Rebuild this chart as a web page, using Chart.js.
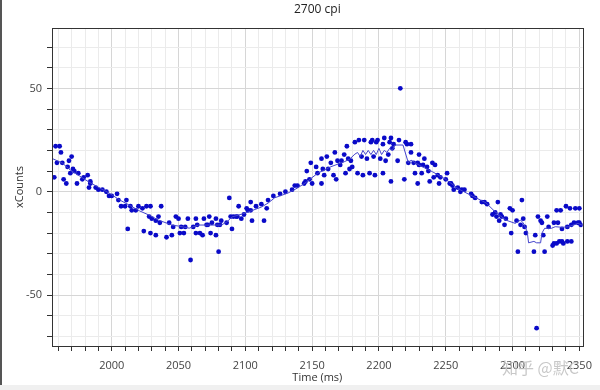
<!DOCTYPE html>
<html>
<head>
<meta charset="utf-8">
<script src="https://cdn.jsdelivr.net/npm/chart.js@4"></script>
<style>
  html, body { margin: 0; padding: 0; background: #fff; }
  #wrap { width: 600px; height: 390px; }
</style>
</head>
<body>
<div id="wrap"><canvas id="chart" width="600" height="390"></canvas></div>
<script>
// 2700 cpi - xCounts over time

// Scatter samples
const pointTimes = [
  1958, 1961, 1962, 1957, 1959, 1963, 1970, 1968, 1967, 1971, 1972, 1969, 1964, 1966, 1975, 1974,
  1978, 1979, 1982, 1984, 1984, 1983, 1988, 1990, 1993, 1996, 1998, 2000, 2004, 2005, 2007, 2010,
  2011, 2014, 2015, 2018, 2020, 2023, 2012, 2024, 2026, 2029, 2037, 2028, 2030, 2033, 2035, 2036,
  2029, 2033, 2041, 2045, 2043, 2046, 2048, 2050, 2052, 2055, 2057, 2051, 2054, 2059, 2061, 2063,
  2064, 2063, 2066, 2068, 2069, 2071, 2072, 2073, 2074, 2075, 2078, 2078, 2079, 2081, 2082, 2080,
  2086, 2088, 2089, 2090, 2091, 2093, 2094, 2095, 2097, 2099, 2101, 2102, 2104, 2104, 2105, 2108,
  2112, 2114, 2116, 2117, 2121, 2126, 2130, 2135, 2137, 2139, 2144, 2145, 2146, 2148, 2149, 2150,
  2153, 2154, 2157, 2157, 2158, 2161, 2159, 2162, 2164, 2166, 2167, 2168, 2169, 2171, 2172, 2174,
  2175, 2176, 2177, 2178, 2179, 2180, 2182, 2184, 2185, 2187, 2188, 2189, 2191, 2193, 2194, 2195,
  2196, 2197, 2198, 2199, 2201, 2203, 2204, 2203, 2205, 2207, 2208, 2209, 2209, 2210, 2211, 2214,
  2215, 2216, 2219, 2220, 2221, 2222, 2224, 2224, 2226, 2227, 2229, 2230, 2229, 2230, 2232, 2233,
  2234, 2236, 2237, 2238, 2240, 2242, 2241, 2244, 2245, 2246, 2250, 2251, 2253, 2254, 2255, 2256,
  2259, 2261, 2262, 2264, 2269, 2270, 2272, 2277, 2279, 2281, 2289, 2285, 2288, 2290, 2287, 2291,
  2292, 2294, 2295, 2298, 2300, 2299, 2303, 2304, 2306, 2307, 2308, 2309, 2310, 2316, 2317, 2318,
  2319, 2321, 2322, 2324, 2323, 2326, 2327, 2330, 2331, 2331, 2333, 2336, 2334, 2333, 2335, 2337,
  2338, 2337, 2340, 2341, 2341, 2344, 2343, 2344, 2347, 2350, 2346, 2349, 2350, 2351
];
const pointCounts = [
  22, 22, 19, 7, 14, 14, 17, 15, 12, 11, 10, 9, 6, 4, 9, 4,
  6, 7, 8, 5, 4, 2, 2, 1, 1, 0, -2, -2, -1, -4, -7, -7,
  -4, -7, -9, -9, -7, -8, -18, -19, -7, -7, -7, -12, -13, -14, -12, -15,
  -20, -21, -22, -21, -15, -17, -12, -13, -17, -17, -13, -20, -20, -33, -17, -13,
  -16, -20, -20, -21, -13, -16, -16, -12, -20, -15, -13, -21, -16, -16, -14, -29,
  -15, -3, -12, -18, -12, -12, -12, -7, -13, -11, -8, -9, -9, -5, -14, -7,
  -6, -14, -8, -4, -2, -1, 0, 1, 3, 3, 4, 5, 10, 6, 14, 4,
  12, 9, 4, 16, 11, 17, 8, 11, 14, 8, 19, 6, 15, 13, 15, 18,
  9, 22, 16, 11, 15, 12, 24, 9, 25, 17, 8, 25, 16, 9, 24, 25,
  17, 8, 24, 25, 16, 9, 26, 23, 15, 18, 24, 5, 26, 21, 23, 15,
  25, 50, 6, 24, 23, 14, 23, 19, 14, 9, 4, 18, 14, 13, 9, 13,
  16, 12, 10, 5, 14, 13, 7, 8, 4, 7, 6, 9, 4, 4, 3, 1,
  2, 0, 1, 1, -1, -2, -3, -5, -5, -6, -5, -11, -12, -14, -10, -11,
  -12, -16, -13, -8, -9, -20, -14, -29, -16, -4, -13, -17, -20, -29, -21, -66,
  -12, -14, -15, -29, -21, -12, -17, -26, -15, -25, -9, -9, -15, -25, -24, -24,
  -25, -18, -7, -17, -24, -24, -8, -16, -8, -8, -15, -15, -15, -16
];

// Smoothed trace
const lineTimes = [
  1955, 1963, 1969, 1976, 1983, 1991, 1998, 2006, 2013, 2021, 2028, 2035, 2045, 2050, 2058, 2065,
  2075, 2082, 2086, 2090, 2100, 2112, 2117, 2122, 2132, 2139, 2146, 2154, 2164, 2174, 2178, 2182,
  2184, 2186, 2188, 2190, 2192, 2194, 2196, 2198, 2200, 2202, 2204, 2206, 2208, 2210, 2212, 2218,
  2222, 2224, 2230, 2240, 2250, 2260, 2270, 2280, 2287, 2295, 2302, 2306, 2308, 2311, 2312, 2316,
  2318, 2321, 2322, 2324, 2329, 2332, 2337, 2342, 2349, 2352
];
const lineCounts = [
  16.2, 13.9, 10.5, 7.6, 4.7, 1.8, -0.6, -4, -6.4, -9.3, -11.3, -13.7, -16.1, -16.6, -17.6, -16.1,
  -16.1, -16.1, -14.7, -12.2, -10.3, -7.4, -5.5, -2.9, -0.6, 1.8, 4.8, 8.9, 12.1, 14.5, 15.7, 18.2,
  19, 17, 20, 18, 20, 18, 20, 18, 21, 18, 20, 19, 21, 20, 22.6, 22.6,
  14, 15.3, 12.9, 9.7, 6, 1.2, -2.1, -5.3, -9.7, -13.7, -15.3, -13.7, -15.1, -19.3, -24.7, -24,
  -24.7, -24.7, -20, -17.7, -17.7, -16.9, -17.2, -16.9, -15.3, -16.1
];

const xTicks = [];
for (let t = 1960; t <= 2350; t += 10) xTicks.push(t);
const yTicks = [];
for (let v = -70; v <= 70; v += 10) yTicks.push(v);

const FONT = '"Open Sans", "Noto Sans", sans-serif';

const frame = {
  id: 'frame',
  beforeDraw(chart) {
    const c = chart.ctx;
    c.save();
    c.fillStyle = '#ffffff';
    c.fillRect(0, 0, chart.width, chart.height);
    c.fillStyle = '#f0f0f0';
    c.fillRect(0, 385, chart.width, 5);
    c.restore();
  },
  afterDraw(chart) {
    const c = chart.ctx;
    const a = chart.chartArea;
    c.save();
    // plot border
    c.strokeStyle = '#333';
    c.lineWidth = 1;
    c.strokeRect(Math.round(a.left) + 0.5, Math.round(a.top) + 0.5,
                 Math.round(a.right - a.left), Math.round(a.bottom - a.top));
    // window edge
    c.fillStyle = '#555';
    c.fillRect(0, 0, 2, 385);
    // title
    c.fillStyle = '#222';
    c.font = '12px ' + FONT;
    c.textAlign = 'center';
    c.textBaseline = 'middle';
    c.fillText('2700 cpi', (a.left + a.right) / 2, 10);
    // axis titles
    c.font = '11px ' + FONT;
    c.fillStyle = '#333';
    c.fillText('Time (ms)', (a.left + a.right) / 2, 378);
    c.save();
    c.translate(20, (a.top + a.bottom) / 2);
    c.rotate(-Math.PI / 2);
    c.fillText('xCounts', 0, 0);
    c.restore();
    // watermark
    c.font = '16px "Noto Sans CJK SC", sans-serif';
    c.fillStyle = 'rgba(190,190,190,0.85)';
    c.textAlign = 'left';
    c.fillText('知乎 @默C', 502, 368);
    c.restore();
  }
};

new Chart(document.getElementById('chart'), {
  type: 'scatter',
  data: {
    datasets: [
      {
        label: 'trace',
        type: 'line',
        data: lineTimes.map((t, i) => ({ x: t, y: lineCounts[i] })),
        borderColor: '#4444cc',
        borderWidth: 1,
        pointRadius: 0,
        tension: 0,
        fill: false
      },
      {
        label: 'samples',
        data: pointTimes.map((t, i) => ({ x: t, y: pointCounts[i] })),
        backgroundColor: '#0a0ac8',
        borderColor: '#0a0ac8',
        pointRadius: 2.4,
        borderWidth: 0
      }
    ]
  },
  options: {
    responsive: false,
    animation: false,
    layout: { padding: { top: 28, right: 12, left: 0, bottom: 0 } },
    plugins: {
      legend: { display: false },
      title: { display: false },
      tooltip: { enabled: false }
    },
    scales: {
      x: {
        type: 'linear',
        min: 1955.3,
        max: 2352.5,
        afterBuildTicks: s => { s.ticks = xTicks.map(v => ({ value: v })); },
        afterFit: s => { s.height = 44; },
        border: { display: true, color: '#333' },
        grid: {
          color: ctx => (ctx.tick && ctx.tick.value % 50 === 0) ? '#d6d6d6' : '#ebebeb',
          tickColor: '#333',
          tickLength: 5,
          drawTicks: true
        },
        ticks: {
          autoSkip: false,
          maxRotation: 0,
          padding: 8,
          color: '#444',
          font: { family: FONT, size: 11 },
          callback: v => (v % 50 === 0 ? String(v) : '')
        }
      },
      y: {
        type: 'linear',
        min: -74.6,
        max: 79.2,
        afterBuildTicks: s => { s.ticks = yTicks.map(v => ({ value: v })); },
        afterFit: s => { s.width = 52; },
        border: { display: true, color: '#333' },
        grid: {
          color: ctx => (ctx.tick && ctx.tick.value % 50 === 0) ? '#d6d6d6' : '#ebebeb',
          tickColor: '#333',
          tickLength: 5,
          drawTicks: true
        },
        ticks: {
          autoSkip: false,
          padding: 5,
          color: '#444',
          font: { family: FONT, size: 11 },
          callback: v => (v % 50 === 0 ? String(v) : '')
        }
      }
    }
  },
  plugins: [frame]
});
</script>
</body>
</html>
